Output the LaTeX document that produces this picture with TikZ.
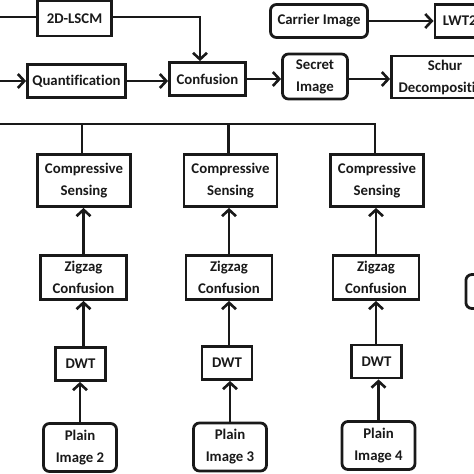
\documentclass[tikz,border=0pt]{standalone}
\usepackage{fontspec}
\setmainfont{Carlito}[Ligatures=NoCommon]
\usetikzlibrary{arrows.meta,calc}
\begin{document}
\begin{tikzpicture}[x=1pt,y=-1pt,
  box/.style={draw=black!90,line width=2.8pt,inner sep=0pt,align=center,
    font=\fontsize{14.8}{22}\selectfont\bfseries,text=black!90},
  rbox/.style={box,rounded corners=6pt},
  arr/.style={line width=2.6pt,draw=black!90,-{Straight Barb[length=6.5pt,width=14pt]}},
  ln/.style={line width=2.5pt,draw=black!90}]
\useasboundingbox (0,0) rectangle (474,474);
\clip (0,0) rectangle (474,474);
% top row
\node[box,minimum width=74pt,minimum height=35pt] (lscm) at (74.5,18.5) {2D-LSCM};
\node[rbox,minimum width=97pt,minimum height=33pt] (carrier) at (319,21) {Carrier Image};
\node[box,anchor=west,text width=70pt,align=left,inner xsep=8pt,minimum height=33pt] (lwt) at (433.5,21) {LWT2};
% second row
\node[box,minimum width=98pt,minimum height=33pt] (quant) at (76.5,81) {Quantification};
\node[box,minimum width=76pt,minimum height=33pt] (conf) at (207.5,79) {Confusion};
\node[rbox,minimum width=65pt,minimum height=45pt] (secret) at (315,76.5) {Secret\\Image};
\node[box,minimum width=107pt,minimum height=42pt] (schur) at (445,77) {Schur\\Decomposition};
% columns
\foreach \n/\cx/\zx/\dx/\dy/\px/\py/\num in {1/84/83.5/80.5/364/80/447.5/2, 2/230.5/229/227/363/230/447/3, 3/377/376/376.5/361.5/378.5/445.5/4}{
  \node[box,minimum width=93pt,minimum height=52pt] (cs\n) at (\cx,180.5) {Compressive\\Sensing};
  \node[box,minimum width=86pt,minimum height=44pt] (zz\n) at (\zx,277.5) {Zigzag\\Confusion};
  \node[box,minimum width=50pt,minimum height=33pt] (dwt\n) at (\dx,\dy) {DWT};
  \node[rbox,minimum width=73pt,minimum height=48pt] (pl\n) at (\px,\py) {Plain\\Image \num};
}
\node[rbox,anchor=west,minimum width=60pt,minimum height=34pt] (rb) at (464.5,291.5) {};
% coordinates
\coordinate (inA) at (-5,17);
\coordinate (inB) at (-5,81);
\coordinate (bus) at (-5,124);
% connectors top
\draw[ln] (inA) -- (inA -| lscm.west);
\draw[arr] (lscm.east |- inA) -| ($(conf.north)+(-7.5,0)$);
\draw[arr] (inB) -- (quant.west);
\draw[arr] (quant.east) -- (quant.east -| conf.west);
\draw[arr] (conf.east) -- (conf.east -| secret.west);
\draw[arr] (secret.east |- conf.east) -- (conf.east -| schur.west);
\draw[arr] (carrier.east) -- (lwt.west);
% bus
\draw[ln] (bus) -| ($(cs3.north)+(-2,0)$);
\draw[ln] ($(cs1.north)+(-2,0)$) -- ($(cs1.north |- bus)+(-2,0)$);
\draw[ln] ($(cs2.north)+(-2,0)$) -- ($(cs2.north |- bus)+(-2,0)$);
% column arrows
\foreach \n in {1,2,3}{
  \draw[arr] (zz\n.north) -- (zz\n.north |- cs\n.south);
  \draw[arr] (zz\n.south |- dwt\n.north) -- (zz\n.south);
  \draw[arr] (pl\n.north) -- (pl\n.north |- dwt\n.south);
}
\end{tikzpicture}
\end{document}
